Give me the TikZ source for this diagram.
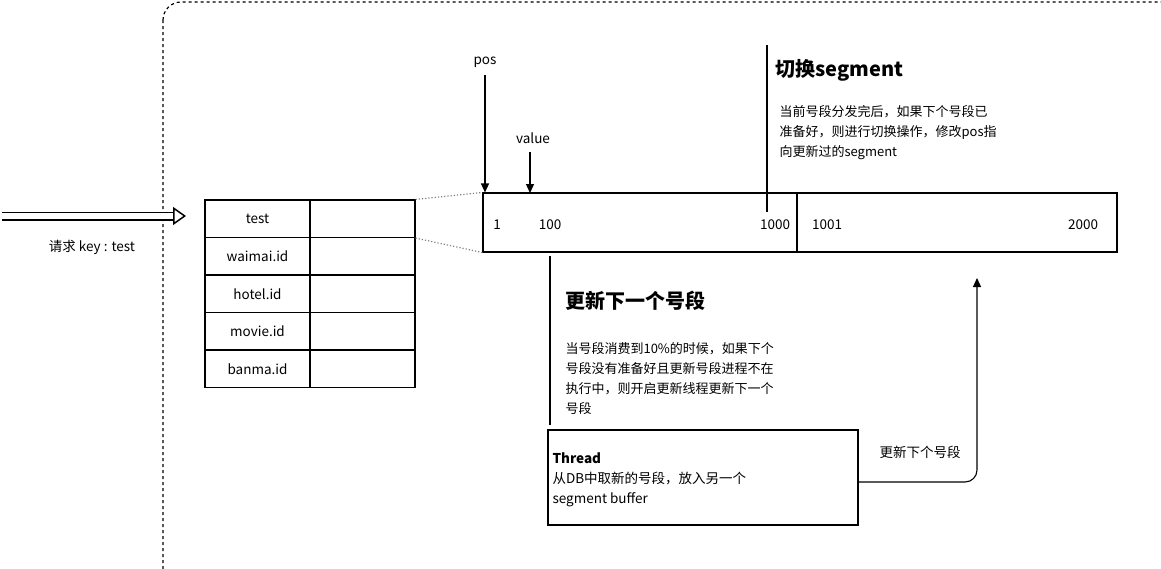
\documentclass[tikz,border=0pt]{standalone}
\usepackage{fontspec}
\setmainfont{Noto Sans CJK SC}
\usetikzlibrary{arrows.meta}

\begin{document}
\begin{tikzpicture}[x=1pt,y=-1pt, line width=1.1pt,
    cell/.style={draw, minimum width=105pt, minimum height=37.5pt, inner sep=0pt, font=\fontsize{13.5}{15}\selectfont},
    lbl/.style={inner sep=0pt, font=\fontsize{13.5}{15}\selectfont},
    note/.style={inner sep=0pt, anchor=north west, align=left, font=\fontsize{13}{20}\selectfont},
    head/.style={inner sep=0pt, anchor=west, font=\fontsize{20}{24}\selectfont\bfseries},
    pointer/.style={-{Triangle[length=9pt,width=8pt]}, line width=1.3pt}]
\useasboundingbox (0,0) rectangle (1161,568);

% --- FRAME ---
\begin{scope}
    \clip (0,0) rectangle (1161,568);
    \draw[dashed, rounded corners=18pt, line width=1.2pt] (163,2) rectangle (1185,590);
\end{scope}

% --- REQUEST ---
\coordinate (reqS) at (2,216);
\coordinate (reqE) at (186,216);
\draw[double distance=6pt, line width=1.5pt, -{Triangle[open,length=13pt,width=18pt]}] (reqS) -- (reqE);
\node[lbl] (req) at (92,247) {请求 key : test};

% --- KEY TABLE ---
\foreach \k [count=\i] in {test, waimai.id, hotel.id, movie.id, banma.id} {
    \node[cell] (k\i) at (257.5,181.25+37.5*\i) {\k};
    \node[cell] (v\i) at (362.5,181.25+37.5*\i) {};
}

% --- SEGMENTS ---
\node[draw, minimum width=314pt, minimum height=59pt, inner sep=0pt] (segA) at (640,222.5) {};
\node[draw, minimum width=320pt, minimum height=59pt, inner sep=0pt] (segB) at (957,222.5) {};
\draw[dotted, gray, line width=1.2pt] (v1.north east) -- (segA.north west);
\draw[dotted, gray, line width=1.2pt] (v1.south east) -- (segA.south west);
\node[lbl] (n1) at (497,225) {1};
\node[lbl] (n100) at (550,225) {100};
\node[lbl] (n1000) at (775,225) {1000};
\node[lbl] (n1001) at (827,225) {1001};
\node[lbl] (n2000) at (1083,225) {2000};

% --- POINTERS ---
\node[lbl] (pos) at (485,62) {pos};
\draw[pointer] (pos.south |- 0,75) -- (pos.south |- segA.north);
\node[lbl] (val) at (533,138) {value};
\draw[pointer] (530,152) -- (530,193);

% --- SWITCH NOTE ---
\coordinate (swT) at (767,45);
\coordinate (swB) at (767,212);
\draw (swT) -- (swB);
\node[head] (swH) at (775,70) {切换segment};
\node[note] (swN) at (779,105) {当前号段分发完后，如果下个号段已\\准备好，则进行切换操作，修改pos指\\向更新过的segment};

% --- UPDATE NOTE ---
\coordinate (upT) at (550,256);
\coordinate (upB) at (550,425);
\draw (upT) -- (upB);
\node[head] (upH) at (565,301) {更新下一个号段};
\node[note] (upN) at (565,342) {当号段消费到10\%的时候，如果下个\\号段没有准备好且更新号段进程不在\\执行中，则开启更新线程更新下一个\\号段};

% --- THREAD ---
\node[draw, minimum width=310pt, minimum height=95pt, inner sep=0pt] (thr) at (703,477.5) {};
\node[note, font=\fontsize{13.5}{20}\selectfont] (thrT) at (552,452) {\textbf{Thread}\\从DB中取新的号段，放入另一个\\segment buffer};
\coordinate (tgt) at (977,278);
\draw[-{Triangle[length=9pt,width=8pt]}, rounded corners=12pt] (thr.east |- 0,482) -- (977,482) -- (tgt);
\node[lbl] (upd) at (920,452) {更新下个号段};

\end{tikzpicture}
\end{document}
